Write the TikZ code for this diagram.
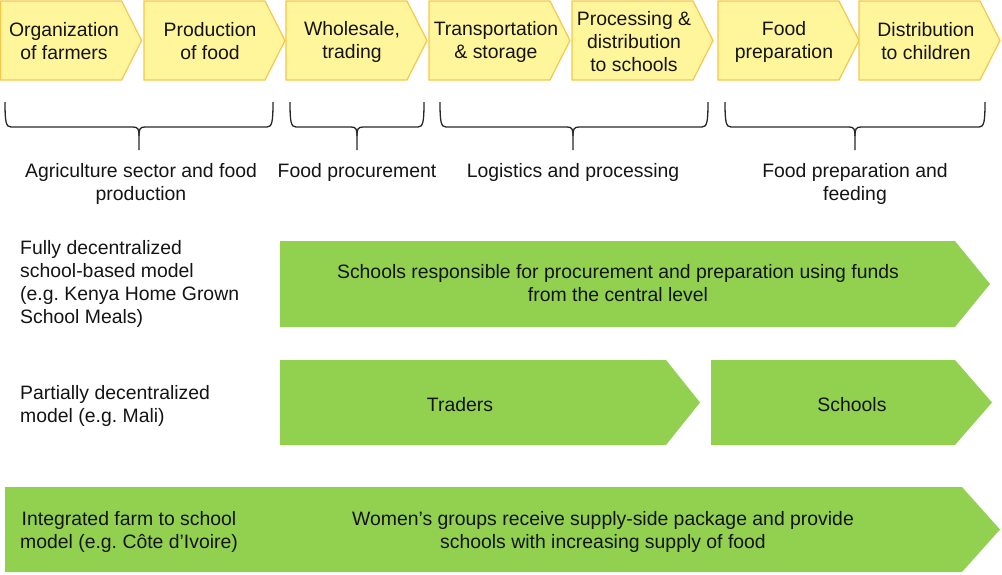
\documentclass[tikz,border=0pt]{standalone}
\usepackage{fontspec}
\setmainfont{Liberation Sans}
\frenchspacing
\definecolor{chevfill}{HTML}{FFF59A}
\definecolor{chevdraw}{HTML}{F5C84A}
\definecolor{arrgreen}{HTML}{92D050}
\definecolor{txt}{HTML}{141414}
\begin{document}
\begin{tikzpicture}[x=1pt,y=-1pt,
  lbl/.style={inner sep=0pt,align=center,text=txt,font=\fontsize{19.4}{23}\selectfont\frenchspacing,yshift=-2pt},
  lbll/.style={inner sep=0pt,align=left,anchor=west,text=txt,font=\fontsize{19.4}{23}\selectfont\frenchspacing,yshift=-2pt},
  chev/.style={fill=chevfill,draw=chevdraw,line width=1.2pt,line join=miter},
  garrow/.style={fill=arrgreen,draw=none},
  bracepath/.style={draw=black!85,line width=1.3pt}]
\useasboundingbox (0,0) rectangle (1002,574);
% chevrons
\foreach \L in {0.6,144,286,429,572,718,859}{
  \path[chev] (\L,1) -- (\L+121,1) -- (\L+141,40.5) -- (\L+121,80) -- (\L,80) -- cycle;
}
\node[lbl] (c1) at (64,39.5) {Organization\\of farmers};
\node[lbl] (c2) at (210,39.5) {Production\\of food};
\node[lbl] (c3) at (352,39.5) {Wholesale,\\trading};
\node[lbl] (c4) at (496,39.5) {Transportation\\\& storage};
\node[lbl] (c5) at (634,39.5) {Processing \&\\distribution\\to schools};
\node[lbl] (c6) at (784,39.5) {Food\\preparation};
\node[lbl] (c7) at (926,39.5) {Distribution\\to children};
% braces
\foreach \Lx/\Mx/\Rx in {5/139/273, 290/357/424, 440/573/708, 725/855/985}{
  \path[bracepath] (\Lx,102) .. controls (\Lx,122) and (\Lx+1,127) .. (\Lx+6,127) -- (\Mx-6,127) .. controls (\Mx-1,127) and (\Mx,129) .. (\Mx,136) -- (\Mx,150);
  \path[bracepath] (\Rx,102) .. controls (\Rx,122) and (\Rx-1,127) .. (\Rx-6,127) -- (\Mx+6,127) .. controls (\Mx+1,127) and (\Mx,129) .. (\Mx,136);
}
\node[lbl] (b1) at (141,181.5) {Agriculture sector and food\\production};
\node[lbl] (b2) at (357,170) {Food procurement};
\node[lbl] (b3) at (573,170) {Logistics and processing};
\node[lbl] (b4) at (855,181.5) {Food preparation and\\feeding};
% left labels
\node[lbll] (m1) at (20,281.5) {Fully decentralized\\school-based model\\(e.g. Kenya Home Grown\\School Meals)};
\node[lbll] (m2) at (20,403.5) {Partially decentralized\\model (e.g. Mali)};
% green arrows
\path[garrow] (280,241) -- (955,241) -- (990,284) -- (955,327) -- (280,327) -- cycle;
\path[garrow] (280,360) -- (666,360) -- (700,402.5) -- (666,445) -- (280,445) -- cycle;
\path[garrow] (711,360) -- (955,360) -- (992,402.5) -- (955,445) -- (711,445) -- cycle;
\path[garrow] (5,487) -- (962,487) -- (1000,529.5) -- (962,572) -- (5,572) -- cycle;
\node[lbl] (g1) at (618,281.5) {Schools responsible for procurement and preparation using funds\\from the central level};
\node[lbl] (g2) at (460,403) {Traders};
\node[lbl] (g3) at (852,403) {Schools};
\node[lbl] (g4) at (129,529.5) {Integrated farm to school\\model (e.g. Côte d’Ivoire)};
\node[lbl] (g5) at (603,529.5) {Women’s groups receive supply-side package and provide\\schools with increasing supply of food};
\end{tikzpicture}
\end{document}
